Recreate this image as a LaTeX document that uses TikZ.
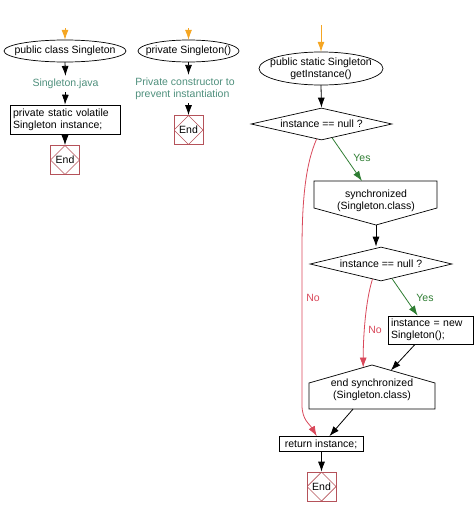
\documentclass[tikz,border=0pt]{standalone}
\usepackage{fontspec}
\setmainfont{Liberation Sans}
\usetikzlibrary{arrows.meta,shapes.geometric,calc}
\definecolor{startor}{HTML}{F5A623}
\definecolor{noteteal}{HTML}{4E8F7C}
\definecolor{yesgreen}{HTML}{2E7D32}
\definecolor{nored}{HTML}{D9485A}
\definecolor{endred}{HTML}{B5525A}
\tikzset{
 every node/.style={font=\fontsize{10.5}{12}\selectfont},
 box/.style={draw, line width=0.7pt, rectangle, inner sep=2pt, align=left},
 txt/.style={inner sep=0pt, align=center},
 note/.style={inner sep=3pt, text=noteteal, align=left},
 dec/.style={draw, line width=0.7pt, diamond, inner sep=0pt},
 endbox/.style={draw=endred, line width=0.7pt, minimum size=29pt, inner sep=0pt,
   path picture={\draw[endred, line width=0.7pt] (path picture bounding box.north) -- (path picture bounding box.east) -- (path picture bounding box.south) -- (path picture bounding box.west) -- cycle;}},
 shp/.style={draw, line width=0.7pt},
 arr/.style={-{Latex[length=10pt,width=7pt]}, line width=0.8pt},
 startarr/.style={arr, draw=startor},
 yesarr/.style={arr, draw=yesgreen},
 noarr/.style={arr, draw=nored},
}
\begin{document}
\begin{tikzpicture}[x=1pt,y=-1pt]
\useasboundingbox (0,0) rectangle (474,514);
% ---------- left column
\coordinate (s1) at (65,28);
\node[txt, minimum width=122pt, minimum height=22pt] (e1) at (65,51) {public class Singleton};
\draw[shp] (e1.center) ellipse[x radius=61, y radius=11];
\node[note] (java) at (65.5,84) {Singleton.java};
\node[box, minimum width=110pt, minimum height=29pt, text width=104pt] (r1) at (65,119.5) {private static volatile\\Singleton instance;};
\node[endbox] (end1) at (65,160) {End};
\draw[startarr] (s1) -- (e1.north);
\draw[arr] (e1.south) -- (java.north);
\draw[arr] (java.south) -- (r1.north);
\draw[arr] (r1.south) -- (end1.north);
% ---------- middle column
\coordinate (s2) at (188.5,28);
\node[txt, minimum width=101pt, minimum height=22pt] (e2) at (188.5,51) {private Singleton()};
\draw[shp] (e2.center) ellipse[x radius=50.5, y radius=11];
\node[note] (pc) at (185,89) {Private constructor to\\prevent instantiation};
\node[endbox] (end2) at (188.5,130) {End};
\draw[startarr] (s2) -- (e2.north);
\draw[arr] (e2.south) -- (e2.south |- pc.north);
\draw[arr] (end2.north |- pc.south) -- (end2.north);
% ---------- right column
\coordinate (s3) at (321,25);
\node[txt, minimum width=124pt, minimum height=33pt] (e3) at (321,68.5) {public static Singleton\\getInstance()};
\draw[shp] (e3.center) ellipse[x radius=62, y radius=16.5];
\node[dec, aspect=4.4, minimum width=141pt, minimum height=32pt] (d1) at (321.5,124) {instance == null ?};
% synchronized block (pentagon pointing down)
\coordinate (syTL) at (314,181);
\coordinate (syTR) at (437,181);
\coordinate (syR) at (437,208);
\coordinate (syB) at (376,225);
\coordinate (syL) at (314,208);
\draw[shp] (syTL) -- (syTR) -- (syR) -- (syB) -- (syL) -- cycle;
\node[txt] (sync) at (376,201) {synchronized\\(Singleton.class)};
\node[dec, aspect=4.2, minimum width=142pt, minimum height=34pt] (d2) at (381,264) {instance == null ?};
\node[box, minimum width=85pt, minimum height=28pt, text width=79pt] (newi) at (430.5,330) {instance = new\\Singleton();};
% end synchronized block (pentagon pointing up)
\coordinate (esT) at (372,365);
\coordinate (esR) at (435,383);
\coordinate (esBR) at (435,409);
\coordinate (esBL) at (309,409);
\coordinate (esL) at (309,383);
\draw[shp] (esT) -- (esR) -- (esBR) -- (esBL) -- (esL) -- cycle;
\node[txt] (esync) at (372,390) {end synchronized\\(Singleton.class)};
\node[box, minimum width=84pt, minimum height=15pt, inner sep=1pt] (ret) at (321,444) {return instance;};
\node[endbox] (end3) at (321.5,486.5) {End};
% labels
\node[txt, text=yesgreen] (yes1) at (362,158) {Yes};
\node[txt, text=yesgreen] (yes2) at (425,298) {Yes};
\node[txt, text=nored] (no1) at (313,298) {No};
\node[txt, text=nored] (no2) at (375,330) {No};
% connectors
\draw[startarr] (s3) -- (e3.north);
\draw[arr] (e3.south) -- (d1.north);
\draw[yesarr] ($(d1.south)!0.15!(d1.east)$) -- ($(syTL)!0.39!(syTR)$);
\draw[arr] (syB) -- (syB |- d2.north);
\draw[yesarr] ($(d2.south)!0.155!(d2.east)$) -- ($(newi.north west)!0.35!(newi.north east)$);
\draw[noarr] ($(d2.south)!0.12!(d2.west)$) .. controls +(-7,22) and +(0,-30) .. ($(esT)!0.14!(esL)$);
\draw[arr] ($(newi.south west)!0.32!(newi.south east)$) -- ($(esT)!0.3!(esR)$);
\draw[noarr] ($(d1.south)!0.07!(d1.west)$) .. controls +(-11,25) and +(0,-50) .. (302,250) -- (302,405) .. controls +(0,15) and +(-7,-12) .. ($(ret.north west)!0.45!(ret.north east)$);
\draw[arr] ($(esBL)!0.35!(esBR)$) -- ($(ret.north west)!0.6!(ret.north east)$);
\draw[arr] (ret.south -| end3.north) -- (end3.north);
\end{tikzpicture}
\end{document}
